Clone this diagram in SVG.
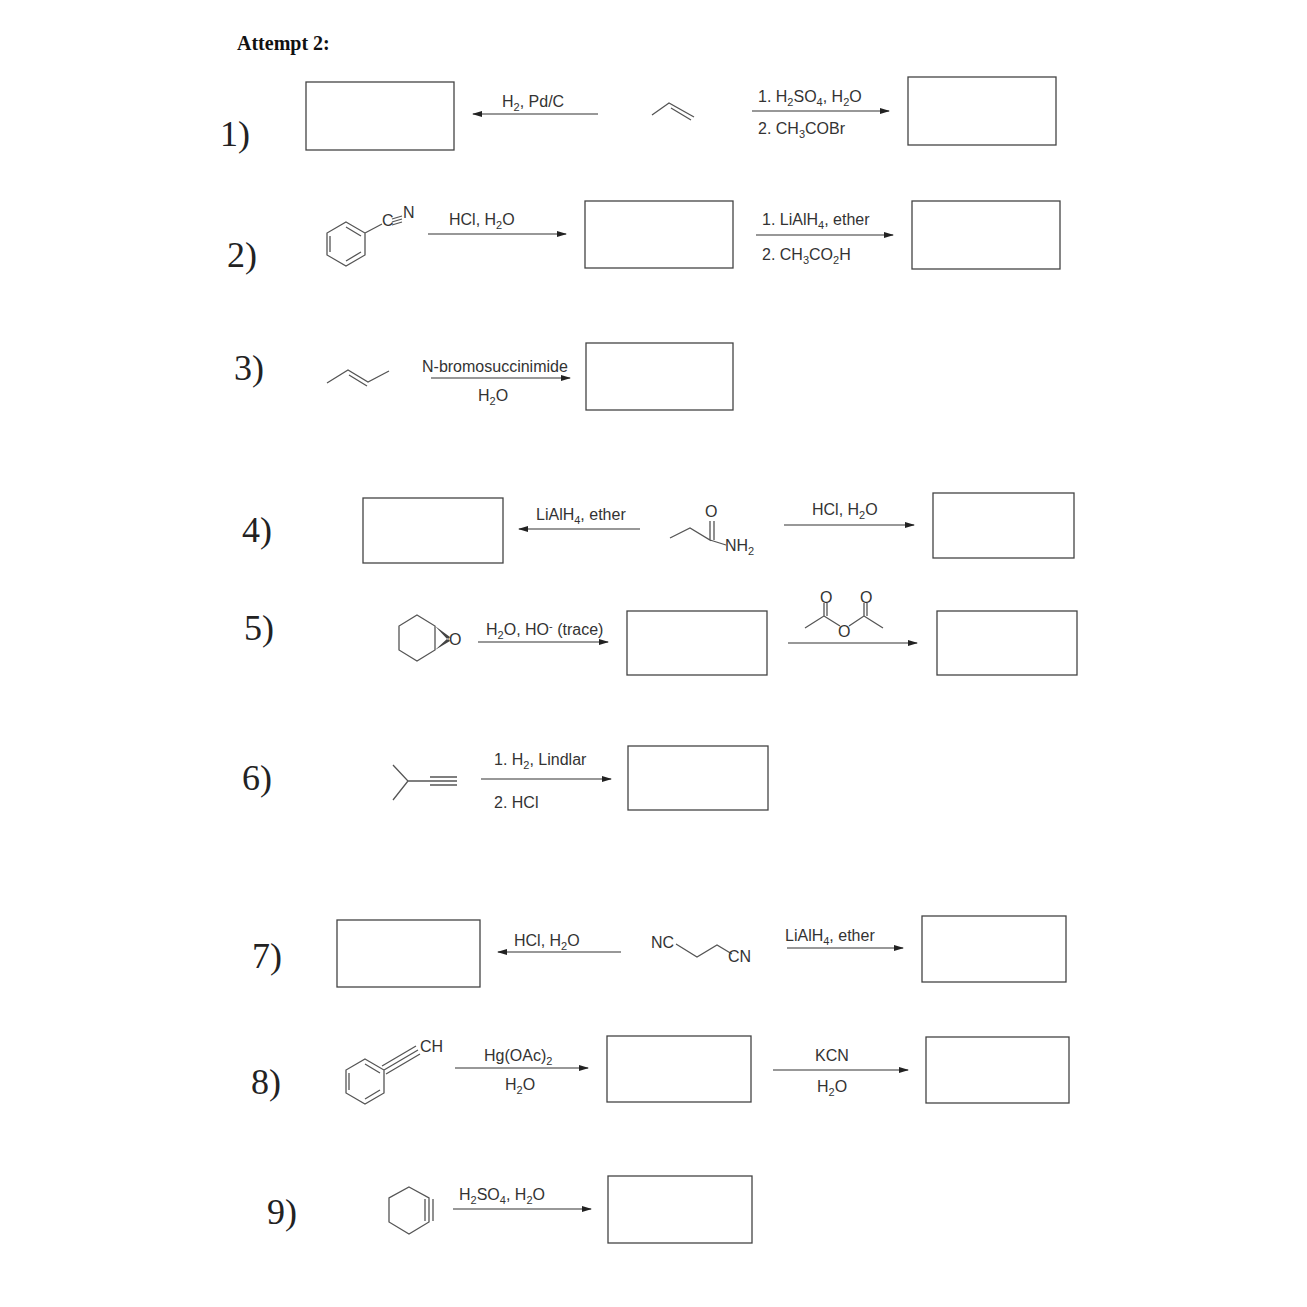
<svg xmlns="http://www.w3.org/2000/svg" width="1307" height="1307" viewBox="0 0 1307 1307">
<defs>
<marker id="ah" markerWidth="10" markerHeight="6" refX="9" refY="3" orient="auto" markerUnits="userSpaceOnUse"><path d="M0,0 L10,3 L0,6 Z" fill="#222"/></marker>
<style>
.box{fill:#fff;stroke:#444;stroke-width:1.3}
.ar{stroke:#333;stroke-width:1.2;fill:none;marker-end:url(#ah)}
.m{stroke:#555;stroke-width:1.3;fill:none}
.t{font-family:"Liberation Sans",Arial,sans-serif;font-size:16px;fill:#333}
.n{font-family:"Liberation Serif","Times New Roman",serif;font-size:36px;fill:#222}
.s{font-size:11px}
</style>
</defs>
<rect width="1307" height="1307" fill="#fff"/>
<text x="237" y="50" font-family="Liberation Serif,serif" font-weight="bold" font-size="20" fill="#111">Attempt 2:</text>
<g id="numbers">
<text class="n" x="220" y="146">1)</text><text class="n" x="227" y="267">2)</text><text class="n" x="234" y="380">3)</text>
<text class="n" x="242" y="542">4)</text><text class="n" x="244" y="640">5)</text><text class="n" x="242" y="790">6)</text>
<text class="n" x="252" y="968">7)</text><text class="n" x="251" y="1094">8)</text><text class="n" x="267" y="1224">9)</text>
</g>
<g id="boxes">
<rect class="box" x="306" y="82" width="148" height="68"/><rect class="box" x="908" y="77" width="148" height="68"/>
<rect class="box" x="585" y="201" width="148" height="67"/><rect class="box" x="912" y="201" width="148" height="68"/>
<rect class="box" x="586" y="343" width="147" height="67"/>
<rect class="box" x="363" y="498" width="140" height="65"/><rect class="box" x="933" y="493" width="141" height="65"/>
<rect class="box" x="627" y="611" width="140" height="64"/><rect class="box" x="937" y="611" width="140" height="64"/>
<rect class="box" x="628" y="746" width="140" height="64"/>
<rect class="box" x="337" y="920" width="143" height="67"/><rect class="box" x="922" y="916" width="144" height="66"/>
<rect class="box" x="607" y="1036" width="144" height="66"/><rect class="box" x="926" y="1037" width="143" height="66"/>
<rect class="box" x="608" y="1176" width="144" height="67"/>
</g>
<g id="connectors">
<line class="ar" x1="598" y1="114" x2="473" y2="114"/><line class="ar" x1="752" y1="111" x2="889" y2="111"/>
<line class="ar" x1="428" y1="234" x2="566" y2="234"/><line class="ar" x1="756" y1="235" x2="893" y2="235"/>
<line class="ar" x1="431" y1="378" x2="570" y2="378"/>
<line class="ar" x1="640" y1="529" x2="519" y2="529"/><line class="ar" x1="784" y1="525" x2="914" y2="525"/>
<line class="ar" x1="478" y1="642" x2="608" y2="642"/><line class="ar" x1="788" y1="643" x2="917" y2="643"/>
<line class="ar" x1="481" y1="779" x2="611" y2="779"/>
<line class="ar" x1="621" y1="952" x2="498" y2="952"/><line class="ar" x1="787" y1="948" x2="903" y2="948"/>
<line class="ar" x1="455" y1="1068" x2="588" y2="1068"/><line class="ar" x1="773" y1="1070" x2="908" y2="1070"/>
<line class="ar" x1="453" y1="1209" x2="591" y2="1209"/>
</g>
<g id="labels" class="t">
<text x="502" y="107">H<tspan class="s" dy="4">2</tspan><tspan dy="-4">, Pd/C</tspan></text>
<text x="758" y="102">1. H<tspan class="s" dy="4">2</tspan><tspan dy="-4">SO</tspan><tspan class="s" dy="4">4</tspan><tspan dy="-4">, H</tspan><tspan class="s" dy="4">2</tspan><tspan dy="-4">O</tspan></text>
<text x="758" y="134">2. CH<tspan class="s" dy="4">3</tspan><tspan dy="-4">COBr</tspan></text>
<text x="449" y="225">HCl, H<tspan class="s" dy="4">2</tspan><tspan dy="-4">O</tspan></text>
<text x="762" y="225">1. LiAlH<tspan class="s" dy="4">4</tspan><tspan dy="-4">, ether</tspan></text>
<text x="762" y="260">2. CH<tspan class="s" dy="4">3</tspan><tspan dy="-4">CO</tspan><tspan class="s" dy="4">2</tspan><tspan dy="-4">H</tspan></text>
<text x="422" y="372">N-bromosuccinimide</text>
<text x="478" y="401">H<tspan class="s" dy="4">2</tspan><tspan dy="-4">O</tspan></text>
<text x="536" y="520">LiAlH<tspan class="s" dy="4">4</tspan><tspan dy="-4">, ether</tspan></text>
<text x="812" y="515">HCl, H<tspan class="s" dy="4">2</tspan><tspan dy="-4">O</tspan></text>
<text x="486" y="635">H<tspan class="s" dy="4">2</tspan><tspan dy="-4">O, HO</tspan><tspan class="s" dy="-5">-</tspan><tspan dy="5"> (trace)</tspan></text>
<text x="494" y="765">1. H<tspan class="s" dy="4">2</tspan><tspan dy="-4">, Lindlar</tspan></text>
<text x="494" y="808">2. HCl</text>
<text x="514" y="946">HCl, H<tspan class="s" dy="4">2</tspan><tspan dy="-4">O</tspan></text>
<text x="785" y="941">LiAlH<tspan class="s" dy="4">4</tspan><tspan dy="-4">, ether</tspan></text>
<text x="484" y="1061">Hg(OAc)<tspan class="s" dy="4">2</tspan></text>
<text x="505" y="1090">H<tspan class="s" dy="4">2</tspan><tspan dy="-4">O</tspan></text>
<text x="815" y="1061">KCN</text>
<text x="817" y="1092">H<tspan class="s" dy="4">2</tspan><tspan dy="-4">O</tspan></text>
<text x="459" y="1200">H<tspan class="s" dy="4">2</tspan><tspan dy="-4">SO</tspan><tspan class="s" dy="4">4</tspan><tspan dy="-4">, H</tspan><tspan class="s" dy="4">2</tspan><tspan dy="-4">O</tspan></text>
</g>
<g id="molecules">
<path class="m" d="M652,115 L669,103 L694,117 M671,108 L691,120"/>
<path class="m" d="M346,222 L365,233 L365,255 L346,266 L327,255 L327,233 Z M330,236 L330,252 M346,261 L361,252 M346,227 L361,236 M365,233 L382,224"/>
<text class="t" x="382" y="226" font-size="13">C</text>
<path class="m" d="M392,219 L402,216 M392,222 L402,219 M392,225 L402,222"/>
<text class="t" x="403" y="218" font-size="13">N</text>
<path class="m" d="M327,383 L348,370 L368,382 L389,371 M349,375 L367,386"/>
<path class="m" d="M670,538 L690,528 L710,540 L710,521 M714,540 L714,521 M710,540 L726,545"/>
<text class="t" x="705" y="517" font-size="13">O</text>
<text class="t" x="725" y="551" font-size="13">NH<tspan class="s" dy="4">2</tspan></text>
<path class="m" d="M417,615 L435,626 L435,650 L417,661 L399,650 L399,626 Z"/>
<path d="M435,626 L450,637 L448,640 Z M435,650 L450,641 L448,638 Z" fill="#444"/>
<text class="t" x="449" y="645" font-size="14">O</text>
<path class="m" d="M805,628 L824,616 L824,603 M827,616 L827,603 M824,616 L840,626 M849,626 L864,616 L864,603 M867,616 L867,603 M864,616 L883,628"/>
<text class="t" x="820" y="603" font-size="13">O</text>
<text class="t" x="860" y="603" font-size="13">O</text>
<text class="t" x="838" y="637" font-size="13">O</text>
<path class="m" d="M393,765 L408,781 L393,800 M408,781 L430,781 M430,777 L457,777 M430,781 L457,781 M430,785 L457,785"/>
<text class="t" x="651" y="948" font-size="14">NC</text>
<path class="m" d="M676,944 L697,957 L717,945 L732,954"/>
<text class="t" x="728" y="962" font-size="14">CN</text>
<path class="m" d="M365,1059 L384,1070 L384,1093 L365,1104 L346,1093 L346,1070 Z M349,1073 L349,1090 M365,1099 L380,1090 M365,1064 L380,1073 M384,1070 L418,1050 M382,1066 L416,1046 M386,1074 L420,1054"/>
<text class="t" x="420" y="1052" font-size="14">CH</text>
<path class="m" d="M409,1187 L429,1198 L429,1222 L409,1234 L389,1222 L389,1198 Z M425,1199 L425,1221 M433,1199 L433,1221"/>
</g>
</svg>
